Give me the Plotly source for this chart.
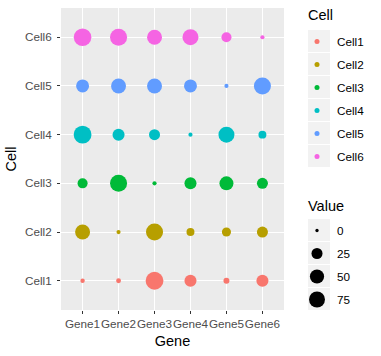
import plotly.graph_objects as go

genes = ["Gene1", "Gene2", "Gene3", "Gene4", "Gene5", "Gene6"]
cells = ["Cell1", "Cell2", "Cell3", "Cell4", "Cell5", "Cell6"]
cell1 = [0.5, 1, 88, 32, 3, 32]
cell2 = [57, 0.3, 79, 9, 14, 25]
cell3 = [19, 79, 0.3, 32, 48, 25]
cell4 = [88, 32, 25, 0.3, 67, 9]
cell5 = [39, 57, 57, 39, 0.3, 79]
cell6 = [85, 79, 57, 67, 19, 0.3]
size_breaks = [0, 25, 50, 75]
colors = ["#F8766D", "#B79F00", "#00BA38", "#00BFC4", "#619CFF", "#F564E3"]

values = [cell1, cell2, cell3, cell4, cell5, cell6]
vmax = max(max(v) for v in values)
vmin = 0


def diam(v):
    frac = max(v - vmin, 0) / (vmax - vmin)
    return 3.3 + 14.5 * frac ** 0.5


W, H = 381, 356
ML, MR, MT, MB = 61, 97, 8, 46
PW, PH = W - ML - MR, H - MT - MB


def px_x(px):
    return (px - ML) / PW


def px_y(py):
    return (H - MB - py) / PH


fig = go.Figure()
for cell, vals, col in zip(cells, values, colors):
    fig.add_trace(go.Scatter(
        x=genes, y=[cell] * len(genes), mode="markers",
        marker=dict(size=[diam(v) for v in vals], sizemode="diameter", color=col,
                    opacity=1, line=dict(width=0)),
        showlegend=False, hoverinfo="x+y",
    ))
# legend: Cell
for cell, col in zip(cells, colors):
    fig.add_trace(go.Scatter(
        x=[None], y=[None], mode="markers", name=cell,
        marker=dict(size=5, color=col, opacity=1, line=dict(width=0)),
        legend="legend", legendgroup=cell,
    ))
# legend: Value
for b in size_breaks:
    fig.add_trace(go.Scatter(
        x=[None], y=[None], mode="markers", name=str(b),
        marker=dict(size=diam(b), color="black", opacity=1, line=dict(width=0)),
        legend="legend2", legendgroup="v" + str(b),
    ))

# grey legend key backgrounds (ggplot style)
def key_box(top_px):
    return dict(type="rect", xref="paper", yref="paper", layer="below",
                x0=px_x(308), x1=px_x(330),
                y0=px_y(top_px + 22), y1=px_y(top_px),
                fillcolor="#F2F2F2", line=dict(width=0))

shapes = [key_box(30 + 23 * i) for i in range(len(cells))]
shapes += [key_box(219 + 23 * i) for i in range(len(size_breaks))]

title_font = dict(family="Liberation Sans", size=14.5, color="black")
annotations = [
    dict(text="Cell", xref="paper", yref="paper", x=px_x(306), y=px_y(15.5),
         xanchor="left", yanchor="middle", showarrow=False, font=title_font),
    dict(text="Value", xref="paper", yref="paper", x=px_x(306), y=px_y(205.5),
         xanchor="left", yanchor="middle", showarrow=False, font=title_font),
]

axis_common = dict(
    type="category", showgrid=True, gridcolor="white", gridwidth=1.1,
    zeroline=False, showline=False, ticks="outside", ticklen=3, tickwidth=1,
    tickcolor="#333333", tickfont=dict(family="Liberation Sans", size=11.7, color="#4D4D4D"),
    title_font=title_font,
    range=[-0.6, 5.6], fixedrange=True, tickangle=0,
)
fig.update_xaxes(**axis_common, categoryorder="array", categoryarray=genes, title_text="Gene", title_standoff=6)
fig.update_yaxes(**axis_common, categoryorder="array", categoryarray=cells, title_text="Cell",
                 title_standoff=4, ticklabelstandoff=3)

legend_common = dict(
    xref="container", yref="container", xanchor="left", yanchor="top",
    bgcolor="rgba(0,0,0,0)", borderwidth=0, tracegroupgap=4, itemsizing="trace",
    indentation=-9,
    font=dict(family="Liberation Sans", size=11.7, color="black"),
)
fig.update_layout(
    width=W, height=H, margin=dict(l=ML, r=MR, t=MT, b=MB, autoexpand=False),
    paper_bgcolor="white", plot_bgcolor="#EBEBEB",
    shapes=shapes, annotations=annotations,
    legend=dict(**legend_common, x=306 / W, y=1 - 27 / H),
    legend2=dict(**legend_common, x=306 / W, y=1 - 216 / H),
)
fig.write_html("out.html", config={"displayModeBar": False},
               post_script="document.body.style.margin='0';document.body.style.padding='0';")
